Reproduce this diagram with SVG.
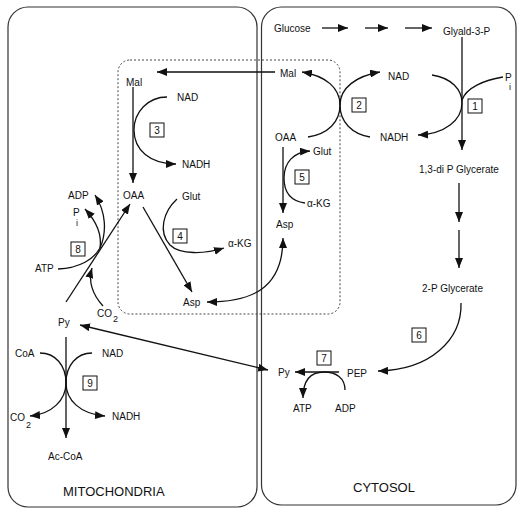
<svg xmlns="http://www.w3.org/2000/svg" width="520" height="512" viewBox="0 0 520 512">
<defs>
<style>
text{font-family:"Liberation Sans",Arial,sans-serif;font-size:10px;fill:#111}
.big{font-size:13px}
.sub{font-size:9px}
.comp{fill:none;stroke:#333;stroke-width:1.2}
.dash{fill:none;stroke:#444;stroke-width:1;stroke-dasharray:2,2}
.c{fill:none;stroke:#111;stroke-width:1.3}
.a{marker-end:url(#ah)}
.b{marker-start:url(#ah);marker-end:url(#ah)}
.box{fill:#fff;stroke:#111;stroke-width:1}
</style>
<marker id="ah" viewBox="0 0 10 8" refX="10" refY="4" markerWidth="10" markerHeight="8" orient="auto-start-reverse" markerUnits="userSpaceOnUse"><path d="M0,0 L10,4 L0,8 Z" fill="#111"/></marker>
</defs>
<rect width="520" height="512" fill="#fff"/>
<g id="compartments">
<rect class="comp" x="8" y="7" width="249" height="500" rx="20"/>
<rect class="comp" x="261.5" y="7" width="254.5" height="498" rx="20"/>
<rect class="dash" x="118" y="60" width="222" height="254" rx="12"/>
</g>
<g id="connectors">
<path class="c a" d="M322,28 H348"/>
<path class="c a" d="M365,28 H388"/>
<path class="c a" d="M405,28 H432"/>
<path class="c a" d="M462,37 V150"/>
<path class="c a" d="M432,75 C452,78 462,90 462,103 C462,120 445,134 418,135"/>
<path class="c" d="M503,77 C484,80 466,88 462,100"/>
<path class="c a" d="M308,137 C328,134 340,122 340,105 C340,88 326,76 302,72"/>
<path class="c a" d="M370,137 C352,134 340,122 340,105 C340,88 356,76 380,72"/>
<path class="c a" d="M275,72 H157"/>
<path class="c a" d="M133,87 V183"/>
<path class="c a" d="M167,97 C148,97 134,112 134,130 C134,150 150,164 176,164"/>
<path class="c a" d="M283,147 V213"/>
<path class="c a" d="M305,203 C290,201 284,192 284,178 C284,162 294,152 310,151"/>
<path class="c a" d="M459,183 V222"/>
<path class="c a" d="M459,230 V268"/>
<path class="c a" d="M461,303 C462,340 430,370 378,371"/>
<path class="c a" d="M339,372 H295"/>
<path class="c a" d="M345,390 C345,378 336,372 324,372 C311,372 303,380 303,398"/>
<path class="c b" d="M80,325 L268,370"/>
<path class="c b" d="M207,302 C250,302 283,290 283,238"/>
<path class="c a" d="M143,207 L192,292"/>
<path class="c a" d="M177,199 C163,212 158,232 170,245 C180,255 205,254 224,248"/>
<path class="c a" d="M66,302 L130,204"/>
<path class="c a" d="M58,269 C80,268 94,259 100,248 C107,232 106,212 95,195"/>
<path class="c a" d="M100,248 C102,235 97,222 85,209"/>
<path class="c a" d="M103,306 C93,295 88,282 92,268"/>
<path class="c a" d="M66,337 V438"/>
<path class="c a" d="M40,353 C55,353 66,365 66,383 C66,400 52,414 30,416"/>
<path class="c a" d="M92,353 C77,353 66,365 66,383 C66,400 80,414 105,416"/>
</g>
<g id="enzymes">
<g id="e1"><rect class="box" x="468" y="99" width="14" height="14"/><text x="475" y="110" text-anchor="middle">1</text></g>
<g id="e2"><rect class="box" x="352" y="98" width="14" height="14"/><text x="359" y="109" text-anchor="middle">2</text></g>
<g id="e3"><rect class="box" x="150" y="123" width="14" height="14"/><text x="157" y="134" text-anchor="middle">3</text></g>
<g id="e4"><rect class="box" x="173" y="229" width="14" height="14"/><text x="180" y="240" text-anchor="middle">4</text></g>
<g id="e5"><rect class="box" x="295" y="170" width="14" height="14"/><text x="302" y="181" text-anchor="middle">5</text></g>
<g id="e6"><rect class="box" x="412" y="328" width="14" height="14"/><text x="419" y="339" text-anchor="middle">6</text></g>
<g id="e7"><rect class="box" x="317" y="351" width="14" height="14"/><text x="324" y="362" text-anchor="middle">7</text></g>
<g id="e8"><rect class="box" x="71" y="242" width="14" height="14"/><text x="78" y="253" text-anchor="middle">8</text></g>
<g id="e9"><rect class="box" x="83" y="376" width="14" height="14"/><text x="90" y="387" text-anchor="middle">9</text></g>
</g>
<g id="mito-metabolites">
<g id="m-mal"><text x="126" y="86">Mal</text></g>
<g id="m-nad3"><text x="177" y="101">NAD</text></g>
<g id="m-nadh3"><text x="182" y="168">NADH</text></g>
<g id="m-oaa"><text x="123" y="199">OAA</text></g>
<g id="m-glut"><text x="182" y="200">Glut</text></g>
<g id="m-akg"><text x="228" y="247">α-KG</text></g>
<g id="m-asp"><text x="183" y="306">Asp</text></g>
<g id="m-adp"><text x="68" y="199">ADP</text></g>
<g id="m-pi"><text x="73" y="216">P</text><text class="sub" x="76" y="226">i</text></g>
<g id="m-atp"><text x="35" y="272">ATP</text></g>
<g id="m-co2"><text x="97" y="317">CO</text><text class="sub" x="113" y="322">2</text></g>
<g id="m-py"><text x="58" y="326">Py</text></g>
<g id="m-coa"><text x="15" y="357">CoA</text></g>
<g id="m-nad9"><text x="102" y="357">NAD</text></g>
<g id="m-co2b"><text x="10" y="421">CO</text><text class="sub" x="26" y="428">2</text></g>
<g id="m-nadh9"><text x="112" y="420">NADH</text></g>
<g id="m-accoa"><text x="48" y="460">Ac-CoA</text></g>
<g id="m-label"><text class="big" x="63" y="496">MITOCHONDRIA</text></g>
</g>
<g id="cyto-metabolites">
<g id="c-glucose"><text x="274" y="32">Glucose</text></g>
<g id="c-g3p"><text x="443" y="35">Glyald-3-P</text></g>
<g id="c-mal"><text x="280" y="77">Mal</text></g>
<g id="c-nad"><text x="388" y="80">NAD</text></g>
<g id="c-pi"><text x="505" y="81">P</text><text class="sub" x="509" y="90">i</text></g>
<g id="c-oaa"><text x="275" y="141">OAA</text></g>
<g id="c-nadh"><text x="380" y="141">NADH</text></g>
<g id="c-glut"><text x="313" y="155">Glut</text></g>
<g id="c-akg"><text x="307" y="207">α-KG</text></g>
<g id="c-asp"><text x="276" y="228">Asp</text></g>
<g id="c-13dpg"><text x="419" y="173">1,3-di P Glycerate</text></g>
<g id="c-2pg"><text x="422" y="292">2-P Glycerate</text></g>
<g id="c-py"><text x="278" y="376">Py</text></g>
<g id="c-pep"><text x="347" y="377">PEP</text></g>
<g id="c-atp"><text x="293" y="412">ATP</text></g>
<g id="c-adp"><text x="335" y="412">ADP</text></g>
<g id="c-label"><text class="big" x="353" y="492">CYTOSOL</text></g>
</g>
</svg>
